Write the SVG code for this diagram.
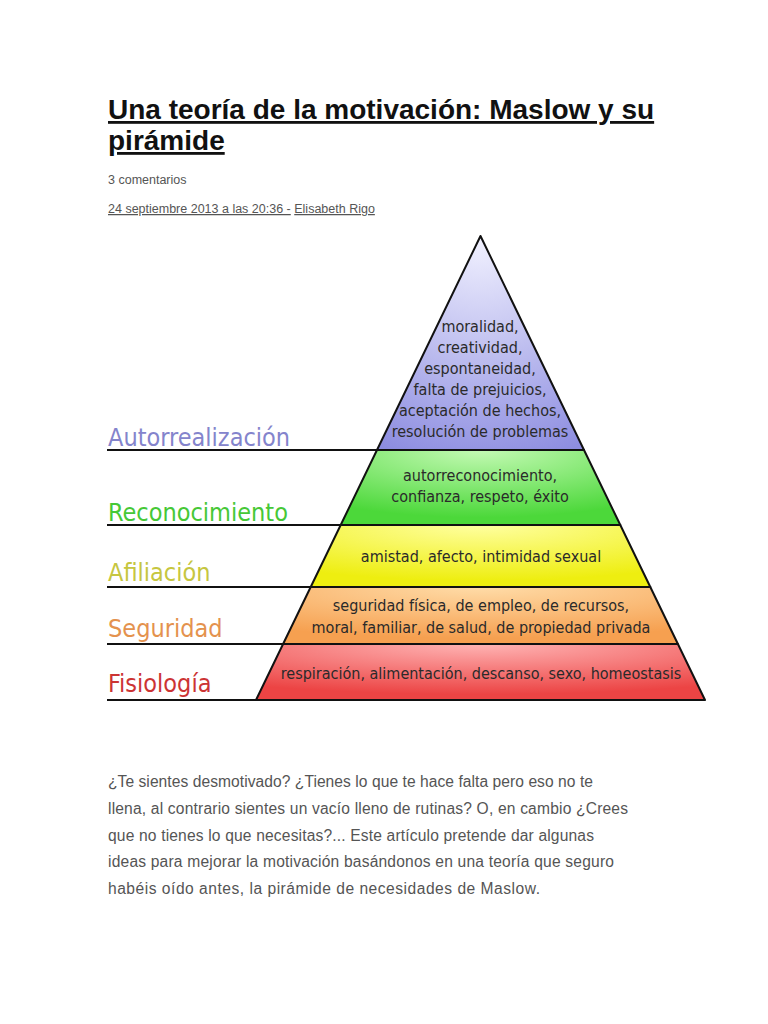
<svg xmlns="http://www.w3.org/2000/svg" width="768" height="1024" viewBox="0 0 768 1024">
  <defs>
    <radialGradient id="gPurple" cx="0.5" cy="0" r="1.1" fx="0.5" fy="0">
      <stop offset="0" stop-color="#f2f2ff"/>
      <stop offset="1" stop-color="#8c8ce0"/>
    </radialGradient>
    <radialGradient id="gGreen" cx="0.5" cy="0" r="0.9" fx="0.5" fy="0">
      <stop offset="0" stop-color="#c4fab4"/>
      <stop offset="1" stop-color="#4cd83a"/>
    </radialGradient>
    <radialGradient id="gYellow" cx="0.5" cy="0" r="0.9" fx="0.5" fy="0">
      <stop offset="0" stop-color="#ffffa0"/>
      <stop offset="1" stop-color="#eeee10"/>
    </radialGradient>
    <radialGradient id="gOrange" cx="0.5" cy="0" r="0.9" fx="0.5" fy="0">
      <stop offset="0" stop-color="#ffdca8"/>
      <stop offset="1" stop-color="#f6a050"/>
    </radialGradient>
    <radialGradient id="gRed" cx="0.5" cy="0" r="0.9" fx="0.5" fy="0">
      <stop offset="0" stop-color="#ffb4b4"/>
      <stop offset="1" stop-color="#ec4444"/>
    </radialGradient>
  </defs>
  <style>
    .title { font-family: "Liberation Sans", Arial, sans-serif; font-weight: bold; font-size: 28px; fill: #111; text-decoration: underline; }
    .meta { font-family: "Liberation Sans", Arial, sans-serif; font-size: 12.5px; fill: #555; }
    .ul { text-decoration: underline; }
    .para { font-family: "Liberation Sans", Arial, sans-serif; font-size: 15.6px; fill: #555; }
    .band { stroke: #111; stroke-width: 2; stroke-linejoin: round; }
    .btext { font-family: "DejaVu Sans Condensed", "DejaVu Sans", sans-serif; font-stretch: condensed; font-size: 16px; fill: #2a2a2a; text-anchor: middle; }
    .label { font-family: "DejaVu Sans Condensed", "DejaVu Sans", sans-serif; font-stretch: condensed; font-size: 25px; }
    .conn { stroke: #111; stroke-width: 2; fill: none; }
  </style>
  <rect x="0" y="0" width="768" height="1024" fill="#ffffff"/>

  <g id="header">
    <text class="title" x="108" y="119">Una teoría de la motivación: Maslow y su</text>
    <text class="title" x="108" y="150">pirámide</text>
    <text class="meta" x="108" y="184">3 comentarios</text>
    <text class="meta" x="108" y="213"><tspan class="ul">24 septiembre 2013 a las 20:36 -</tspan> <tspan class="ul">Elisabeth Rigo</tspan></text>
  </g>

  <g id="connectors">
    <line class="conn" x1="107" y1="450" x2="377" y2="450"/>
    <line class="conn" x1="107" y1="525" x2="341" y2="525"/>
    <line class="conn" x1="107" y1="587" x2="311" y2="587"/>
    <line class="conn" x1="107" y1="644" x2="283" y2="644"/>
    <line class="conn" x1="107" y1="700" x2="256" y2="700"/>
  </g>

  <g id="level-autorrealizacion">
    <polygon class="band" fill="url(#gPurple)" points="480.5,236 584,450 377,450"/>
    <text class="btext" x="480" y="332">moralidad,</text>
    <text class="btext" x="480" y="353">creatividad,</text>
    <text class="btext" x="480" y="374">espontaneidad,</text>
    <text class="btext" x="480" y="395">falta de prejuicios,</text>
    <text class="btext" x="480" y="416">aceptación de hechos,</text>
    <text class="btext" x="480" y="437">resolución de problemas</text>
    <text class="label" x="108" y="446" fill="#8484cc">Autorrealización</text>
  </g>

  <g id="level-reconocimiento">
    <polygon class="band" fill="url(#gGreen)" points="377,450 584,450 620.3,525 340.7,525"/>
    <text class="btext" x="480" y="481">autorreconocimiento,</text>
    <text class="btext" x="480" y="502">confianza, respeto, éxito</text>
    <text class="label" x="108" y="521" fill="#46c836">Reconocimiento</text>
  </g>

  <g id="level-afiliacion">
    <polygon class="band" fill="url(#gYellow)" points="340.7,525 620.3,525 650.3,587 310.7,587"/>
    <text class="btext" x="481" y="562">amistad, afecto, intimidad sexual</text>
    <text class="label" x="108" y="581" fill="#c6c640">Afiliación</text>
  </g>

  <g id="level-seguridad">
    <polygon class="band" fill="url(#gOrange)" points="310.7,587 650.3,587 677.9,644 283.1,644"/>
    <text class="btext" x="481" y="611">seguridad física, de empleo, de recursos,</text>
    <text class="btext" x="481" y="633">moral, familiar, de salud, de propiedad privada</text>
    <text class="label" x="108" y="637" fill="#e4924e">Seguridad</text>
  </g>

  <g id="level-fisiologia">
    <polygon class="band" fill="url(#gRed)" points="283.1,644 677.9,644 705,700 256,700"/>
    <text class="btext" x="481" y="679">respiración, alimentación, descanso, sexo, homeostasis</text>
    <text class="label" x="108" y="692" fill="#cc3434">Fisiología</text>
  </g>

  <g id="paragraph">
    <text class="para" x="108" y="787" textLength="485">¿Te sientes desmotivado? ¿Tienes lo que te hace falta pero eso no te</text>
    <text class="para" x="108" y="814" textLength="520">llena, al contrario sientes un vacío lleno de rutinas? O, en cambio ¿Crees</text>
    <text class="para" x="108" y="841" textLength="486">que no tienes lo que necesitas?... Este artículo pretende dar algunas</text>
    <text class="para" x="108" y="867" textLength="506">ideas para mejorar la motivación basándonos en una teoría que seguro</text>
    <text class="para" x="108" y="894" textLength="432">habéis oído antes, la pirámide de necesidades de Maslow.</text>
  </g>
</svg>
